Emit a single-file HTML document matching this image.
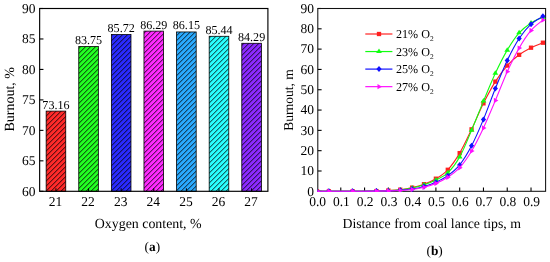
<!DOCTYPE html>
<html><head><meta charset="utf-8"><title>Burnout</title>
<style>
html,body{margin:0;padding:0;background:#fff;}
svg{display:block}
text{font-family:"Liberation Serif", serif;fill:#000;text-rendering:geometricPrecision}
.t{font-size:13.5px}
.v{font-size:12.1px}
.l{font-size:13.9px}
</style></head><body>
<svg width="550" height="262" viewBox="0 0 550 262">
<rect width="550" height="262" fill="#fff"/>
<defs>
<pattern id="h" patternUnits="userSpaceOnUse" width="5" height="5">
<path d="M-1,3.3 L3.3,-1 M1.3,6 L6,1.3" stroke="#000" stroke-width="0.85" fill="none"/>
</pattern>
</defs>
<rect x="46.15" y="111.11" width="19.6" height="80.19" fill="#ff2a2a"/>
<rect x="46.15" y="111.11" width="19.6" height="80.19" fill="url(#h)" stroke="#000" stroke-width="0.8"/>
<text class="v" x="55.95" y="108.51" text-anchor="middle">73.16</text>
<text class="t" x="55.45" y="206.1" text-anchor="middle">21</text>
<path d="M55.95,191.3 v-3" stroke="#000" stroke-width="1"/>
<rect x="78.76" y="46.58" width="19.6" height="144.72" fill="#22ff22"/>
<rect x="78.76" y="46.58" width="19.6" height="144.72" fill="url(#h)" stroke="#000" stroke-width="0.8"/>
<text class="v" x="88.56" y="43.98" text-anchor="middle">83.75</text>
<text class="t" x="88.06" y="206.1" text-anchor="middle">22</text>
<path d="M88.56,191.3 v-3" stroke="#000" stroke-width="1"/>
<rect x="111.37" y="34.58" width="19.6" height="156.72" fill="#2a2aff"/>
<rect x="111.37" y="34.58" width="19.6" height="156.72" fill="url(#h)" stroke="#000" stroke-width="0.8"/>
<text class="v" x="121.17" y="31.98" text-anchor="middle">85.72</text>
<text class="t" x="120.67" y="206.1" text-anchor="middle">23</text>
<path d="M121.17,191.3 v-3" stroke="#000" stroke-width="1"/>
<rect x="143.97" y="31.11" width="19.6" height="160.19" fill="#ff2aff"/>
<rect x="143.97" y="31.11" width="19.6" height="160.19" fill="url(#h)" stroke="#000" stroke-width="0.8"/>
<text class="v" x="153.77" y="28.51" text-anchor="middle">86.29</text>
<text class="t" x="153.27" y="206.1" text-anchor="middle">24</text>
<path d="M153.77,191.3 v-3" stroke="#000" stroke-width="1"/>
<rect x="176.58" y="31.96" width="19.6" height="159.34" fill="#2aaaff"/>
<rect x="176.58" y="31.96" width="19.6" height="159.34" fill="url(#h)" stroke="#000" stroke-width="0.8"/>
<text class="v" x="186.38" y="29.36" text-anchor="middle">86.15</text>
<text class="t" x="185.88" y="206.1" text-anchor="middle">25</text>
<path d="M186.38,191.3 v-3" stroke="#000" stroke-width="1"/>
<rect x="209.19" y="36.29" width="19.6" height="155.01" fill="#2affff"/>
<rect x="209.19" y="36.29" width="19.6" height="155.01" fill="url(#h)" stroke="#000" stroke-width="0.8"/>
<text class="v" x="218.99" y="33.69" text-anchor="middle">85.44</text>
<text class="t" x="218.49" y="206.1" text-anchor="middle">26</text>
<path d="M218.99,191.3 v-3" stroke="#000" stroke-width="1"/>
<rect x="241.80" y="43.29" width="19.6" height="148.01" fill="#8c2aff"/>
<rect x="241.80" y="43.29" width="19.6" height="148.01" fill="url(#h)" stroke="#000" stroke-width="0.8"/>
<text class="v" x="251.60" y="40.69" text-anchor="middle">84.29</text>
<text class="t" x="251.10" y="206.1" text-anchor="middle">27</text>
<path d="M251.60,191.3 v-3" stroke="#000" stroke-width="1"/>
<path d="M39.65,191.30 h3.8" stroke="#000" stroke-width="1.1"/>
<text class="t" x="35.4" y="195.60" text-anchor="end">60</text>
<path d="M39.65,160.83 h3.8" stroke="#000" stroke-width="1.1"/>
<text class="t" x="35.4" y="165.13" text-anchor="end">65</text>
<path d="M39.65,130.37 h3.8" stroke="#000" stroke-width="1.1"/>
<text class="t" x="35.4" y="134.67" text-anchor="end">70</text>
<path d="M39.65,99.90 h3.8" stroke="#000" stroke-width="1.1"/>
<text class="t" x="35.4" y="104.20" text-anchor="end">75</text>
<path d="M39.65,69.43 h3.8" stroke="#000" stroke-width="1.1"/>
<text class="t" x="35.4" y="73.73" text-anchor="end">80</text>
<path d="M39.65,38.97 h3.8" stroke="#000" stroke-width="1.1"/>
<text class="t" x="35.4" y="43.27" text-anchor="end">85</text>
<path d="M39.65,8.50 h3.8" stroke="#000" stroke-width="1.1"/>
<text class="t" x="35.4" y="12.80" text-anchor="end">90</text>
<rect x="39.65" y="8.5" width="228.24999999999997" height="182.8" fill="none" stroke="#000" stroke-width="1.15"/>
<text class="l" transform="translate(14.3,99.25) rotate(-90)" text-anchor="middle" style="font-size:14px">Burnout, %</text>
<text class="l" x="148.2" y="227.7" text-anchor="middle">Oxygen content, %</text>
<text class="l" x="152.3" y="250.7" text-anchor="middle" style="font-size:13.3px">(<tspan font-weight="bold">a</tspan>)</text>
<clipPath id="cp"><rect x="317.5" y="8.5" width="228.4" height="183.4"/></clipPath>
<path d="M317.8,191.30 h3.8" stroke="#000" stroke-width="1.1"/>
<text class="t" x="314.1" y="195.60" text-anchor="end">0</text>
<path d="M317.8,170.99 h3.8" stroke="#000" stroke-width="1.1"/>
<text class="t" x="314.1" y="175.29" text-anchor="end">10</text>
<path d="M317.8,150.68 h3.8" stroke="#000" stroke-width="1.1"/>
<text class="t" x="314.1" y="154.98" text-anchor="end">20</text>
<path d="M317.8,130.37 h3.8" stroke="#000" stroke-width="1.1"/>
<text class="t" x="314.1" y="134.67" text-anchor="end">30</text>
<path d="M317.8,110.06 h3.8" stroke="#000" stroke-width="1.1"/>
<text class="t" x="314.1" y="114.36" text-anchor="end">40</text>
<path d="M317.8,89.74 h3.8" stroke="#000" stroke-width="1.1"/>
<text class="t" x="314.1" y="94.04" text-anchor="end">50</text>
<path d="M317.8,69.43 h3.8" stroke="#000" stroke-width="1.1"/>
<text class="t" x="314.1" y="73.73" text-anchor="end">60</text>
<path d="M317.8,49.12 h3.8" stroke="#000" stroke-width="1.1"/>
<text class="t" x="314.1" y="53.42" text-anchor="end">70</text>
<path d="M317.8,28.81 h3.8" stroke="#000" stroke-width="1.1"/>
<text class="t" x="314.1" y="33.11" text-anchor="end">80</text>
<path d="M317.8,8.50 h3.8" stroke="#000" stroke-width="1.1"/>
<text class="t" x="314.1" y="12.80" text-anchor="end">90</text>
<text class="t" x="317.60" y="206.1" text-anchor="middle">0.0</text>
<path d="M340.78,191.3 v-3.8" stroke="#000" stroke-width="1.1"/>
<text class="t" x="341.38" y="206.1" text-anchor="middle">0.1</text>
<path d="M364.56,191.3 v-3.8" stroke="#000" stroke-width="1.1"/>
<text class="t" x="365.16" y="206.1" text-anchor="middle">0.2</text>
<path d="M388.34,191.3 v-3.8" stroke="#000" stroke-width="1.1"/>
<text class="t" x="388.94" y="206.1" text-anchor="middle">0.3</text>
<path d="M412.12,191.3 v-3.8" stroke="#000" stroke-width="1.1"/>
<text class="t" x="412.72" y="206.1" text-anchor="middle">0.4</text>
<path d="M435.90,191.3 v-3.8" stroke="#000" stroke-width="1.1"/>
<text class="t" x="436.50" y="206.1" text-anchor="middle">0.5</text>
<path d="M459.68,191.3 v-3.8" stroke="#000" stroke-width="1.1"/>
<text class="t" x="460.28" y="206.1" text-anchor="middle">0.6</text>
<path d="M483.46,191.3 v-3.8" stroke="#000" stroke-width="1.1"/>
<text class="t" x="484.06" y="206.1" text-anchor="middle">0.7</text>
<path d="M507.24,191.3 v-3.8" stroke="#000" stroke-width="1.1"/>
<text class="t" x="507.84" y="206.1" text-anchor="middle">0.8</text>
<path d="M531.02,191.3 v-3.8" stroke="#000" stroke-width="1.1"/>
<text class="t" x="531.62" y="206.1" text-anchor="middle">0.9</text>
<rect x="317.8" y="8.5" width="227.8" height="182.8" fill="none" stroke="#111" stroke-width="1.05"/>
<g clip-path="url(#cp)"><path d="M317.00,191.30 C318.98,191.30 322.94,191.30 328.89,191.30 C334.83,191.30 344.74,191.33 352.67,191.30 C360.60,191.27 370.50,191.23 376.45,191.10 C382.39,190.96 384.38,190.72 388.34,190.49 C392.30,190.25 396.27,190.15 400.23,189.68 C404.19,189.20 408.16,188.56 412.12,187.64 C416.08,186.73 420.05,185.68 424.01,184.19 C427.97,182.70 431.94,181.11 435.90,178.71 C439.86,176.30 443.83,174.04 447.79,169.77 C451.75,165.50 455.72,159.85 459.68,153.12 C463.64,146.38 467.61,137.64 471.57,129.35 C475.53,121.06 479.50,111.31 483.46,103.35 C487.42,95.40 491.39,87.92 495.35,81.62 C499.31,75.32 503.28,70.04 507.24,65.57 C511.20,61.11 515.17,57.79 519.13,54.81 C523.09,51.83 527.06,49.72 531.02,47.70 C534.98,45.68 540.93,43.54 542.91,42.70" fill="none" stroke="#ff2020" stroke-width="1.1"/>
<rect x="314.85" y="189.15" width="4.3" height="4.3" fill="#ff2020"/>
<rect x="326.74" y="189.15" width="4.3" height="4.3" fill="#ff2020"/>
<rect x="350.52" y="189.15" width="4.3" height="4.3" fill="#ff2020"/>
<rect x="374.30" y="188.95" width="4.3" height="4.3" fill="#ff2020"/>
<rect x="386.19" y="188.34" width="4.3" height="4.3" fill="#ff2020"/>
<rect x="398.08" y="187.53" width="4.3" height="4.3" fill="#ff2020"/>
<rect x="409.97" y="185.49" width="4.3" height="4.3" fill="#ff2020"/>
<rect x="421.86" y="182.04" width="4.3" height="4.3" fill="#ff2020"/>
<rect x="433.75" y="176.56" width="4.3" height="4.3" fill="#ff2020"/>
<rect x="445.64" y="167.62" width="4.3" height="4.3" fill="#ff2020"/>
<rect x="457.53" y="150.97" width="4.3" height="4.3" fill="#ff2020"/>
<rect x="469.42" y="127.20" width="4.3" height="4.3" fill="#ff2020"/>
<rect x="481.31" y="101.20" width="4.3" height="4.3" fill="#ff2020"/>
<rect x="493.20" y="79.47" width="4.3" height="4.3" fill="#ff2020"/>
<rect x="505.09" y="63.42" width="4.3" height="4.3" fill="#ff2020"/>
<rect x="516.98" y="52.66" width="4.3" height="4.3" fill="#ff2020"/>
<rect x="528.87" y="45.55" width="4.3" height="4.3" fill="#ff2020"/>
<rect x="540.76" y="40.55" width="4.3" height="4.3" fill="#ff2020"/>
</g>
<g clip-path="url(#cp)"><path d="M317.00,191.30 C318.98,191.30 322.94,191.30 328.89,191.30 C334.83,191.30 344.74,191.33 352.67,191.30 C360.60,191.27 370.50,191.20 376.45,191.10 C382.39,191.00 384.38,190.89 388.34,190.69 C392.30,190.49 396.27,190.32 400.23,189.88 C404.19,189.44 408.16,188.90 412.12,188.05 C416.08,187.20 420.05,186.15 424.01,184.80 C427.97,183.45 431.94,181.92 435.90,179.93 C439.86,177.93 443.83,176.64 447.79,172.82 C451.75,168.99 455.72,164.05 459.68,156.97 C463.64,149.90 467.61,139.68 471.57,130.37 C475.53,121.06 479.50,110.63 483.46,101.12 C487.42,91.61 491.39,81.79 495.35,73.29 C499.31,64.80 503.28,56.87 507.24,50.14 C511.20,43.40 515.17,37.41 519.13,32.87 C523.09,28.34 527.06,25.53 531.02,22.92 C534.98,20.31 540.93,18.15 542.91,17.19" fill="none" stroke="#10ff10" stroke-width="1.1"/>
<path d="M317.00,188.30 L319.90,192.80 L314.10,192.80 Z" fill="#10ff10"/>
<path d="M328.89,188.30 L331.79,192.80 L325.99,192.80 Z" fill="#10ff10"/>
<path d="M352.67,188.30 L355.57,192.80 L349.77,192.80 Z" fill="#10ff10"/>
<path d="M376.45,188.10 L379.35,192.60 L373.55,192.60 Z" fill="#10ff10"/>
<path d="M388.34,187.69 L391.24,192.19 L385.44,192.19 Z" fill="#10ff10"/>
<path d="M400.23,186.88 L403.13,191.38 L397.33,191.38 Z" fill="#10ff10"/>
<path d="M412.12,185.05 L415.02,189.55 L409.22,189.55 Z" fill="#10ff10"/>
<path d="M424.01,181.80 L426.91,186.30 L421.11,186.30 Z" fill="#10ff10"/>
<path d="M435.90,176.93 L438.80,181.43 L433.00,181.43 Z" fill="#10ff10"/>
<path d="M447.79,169.82 L450.69,174.32 L444.89,174.32 Z" fill="#10ff10"/>
<path d="M459.68,153.97 L462.58,158.47 L456.78,158.47 Z" fill="#10ff10"/>
<path d="M471.57,127.37 L474.47,131.87 L468.67,131.87 Z" fill="#10ff10"/>
<path d="M483.46,98.12 L486.36,102.62 L480.56,102.62 Z" fill="#10ff10"/>
<path d="M495.35,70.29 L498.25,74.79 L492.45,74.79 Z" fill="#10ff10"/>
<path d="M507.24,47.14 L510.14,51.64 L504.34,51.64 Z" fill="#10ff10"/>
<path d="M519.13,29.87 L522.03,34.37 L516.23,34.37 Z" fill="#10ff10"/>
<path d="M531.02,19.92 L533.92,24.42 L528.12,24.42 Z" fill="#10ff10"/>
<path d="M542.91,14.19 L545.81,18.69 L540.01,18.69 Z" fill="#10ff10"/>
</g>
<g clip-path="url(#cp)"><path d="M317.00,191.30 C318.98,191.30 322.94,191.30 328.89,191.30 C334.83,191.30 344.74,191.33 352.67,191.30 C360.60,191.27 370.50,191.16 376.45,191.10 C382.39,191.03 384.38,191.03 388.34,190.89 C392.30,190.76 396.27,190.59 400.23,190.28 C404.19,189.98 408.16,189.71 412.12,189.07 C416.08,188.42 420.05,187.58 424.01,186.43 C427.97,185.27 431.94,183.95 435.90,182.16 C439.86,180.37 443.83,178.54 447.79,175.66 C451.75,172.78 455.72,169.87 459.68,164.90 C463.64,159.92 467.61,153.39 471.57,145.80 C475.53,138.22 479.50,128.94 483.46,119.40 C487.42,109.85 491.39,98.34 495.35,88.53 C499.31,78.71 503.28,68.82 507.24,60.50 C511.20,52.17 515.17,44.62 519.13,38.56 C523.09,32.50 527.06,27.85 531.02,24.14 C534.98,20.43 540.93,17.62 542.91,16.32" fill="none" stroke="#1010ff" stroke-width="1.1"/>
<path d="M317.00,188.30 L319.60,191.30 L317.00,194.30 L314.40,191.30 Z" fill="#1010ff"/>
<path d="M328.89,188.30 L331.49,191.30 L328.89,194.30 L326.29,191.30 Z" fill="#1010ff"/>
<path d="M352.67,188.30 L355.27,191.30 L352.67,194.30 L350.07,191.30 Z" fill="#1010ff"/>
<path d="M376.45,188.10 L379.05,191.10 L376.45,194.10 L373.85,191.10 Z" fill="#1010ff"/>
<path d="M388.34,187.89 L390.94,190.89 L388.34,193.89 L385.74,190.89 Z" fill="#1010ff"/>
<path d="M400.23,187.28 L402.83,190.28 L400.23,193.28 L397.63,190.28 Z" fill="#1010ff"/>
<path d="M412.12,186.07 L414.72,189.07 L412.12,192.07 L409.52,189.07 Z" fill="#1010ff"/>
<path d="M424.01,183.43 L426.61,186.43 L424.01,189.43 L421.41,186.43 Z" fill="#1010ff"/>
<path d="M435.90,179.16 L438.50,182.16 L435.90,185.16 L433.30,182.16 Z" fill="#1010ff"/>
<path d="M447.79,172.66 L450.39,175.66 L447.79,178.66 L445.19,175.66 Z" fill="#1010ff"/>
<path d="M459.68,161.90 L462.28,164.90 L459.68,167.90 L457.08,164.90 Z" fill="#1010ff"/>
<path d="M471.57,142.80 L474.17,145.80 L471.57,148.80 L468.97,145.80 Z" fill="#1010ff"/>
<path d="M483.46,116.40 L486.06,119.40 L483.46,122.40 L480.86,119.40 Z" fill="#1010ff"/>
<path d="M495.35,85.53 L497.95,88.53 L495.35,91.53 L492.75,88.53 Z" fill="#1010ff"/>
<path d="M507.24,57.50 L509.84,60.50 L507.24,63.50 L504.64,60.50 Z" fill="#1010ff"/>
<path d="M519.13,35.56 L521.73,38.56 L519.13,41.56 L516.53,38.56 Z" fill="#1010ff"/>
<path d="M531.02,21.14 L533.62,24.14 L531.02,27.14 L528.42,24.14 Z" fill="#1010ff"/>
<path d="M542.91,13.32 L545.51,16.32 L542.91,19.32 L540.31,16.32 Z" fill="#1010ff"/>
</g>
<g clip-path="url(#cp)"><path d="M317.00,191.30 C318.98,191.30 322.94,191.30 328.89,191.30 C334.83,191.30 344.74,191.33 352.67,191.30 C360.60,191.27 370.50,191.16 376.45,191.10 C382.39,191.03 384.38,191.00 388.34,190.89 C392.30,190.79 396.27,190.72 400.23,190.49 C404.19,190.25 408.16,190.01 412.12,189.47 C416.08,188.93 420.05,188.25 424.01,187.24 C427.97,186.22 431.94,185.04 435.90,183.38 C439.86,181.72 443.83,179.89 447.79,177.29 C451.75,174.68 455.72,172.11 459.68,167.74 C463.64,163.37 467.61,157.72 471.57,151.08 C475.53,144.45 479.50,136.36 483.46,127.93 C487.42,119.50 491.39,109.89 495.35,100.51 C499.31,91.13 503.28,80.40 507.24,71.67 C511.20,62.93 515.17,54.98 519.13,48.11 C523.09,41.23 527.06,35.10 531.02,30.44 C534.98,25.77 540.93,21.82 542.91,20.10" fill="none" stroke="#ff10ff" stroke-width="1.1"/>
<path d="M320.00,191.30 L315.50,188.60 L315.50,194.00 Z" fill="#ff10ff"/>
<path d="M331.89,191.30 L327.39,188.60 L327.39,194.00 Z" fill="#ff10ff"/>
<path d="M355.67,191.30 L351.17,188.60 L351.17,194.00 Z" fill="#ff10ff"/>
<path d="M379.45,191.10 L374.95,188.40 L374.95,193.80 Z" fill="#ff10ff"/>
<path d="M391.34,190.89 L386.84,188.19 L386.84,193.59 Z" fill="#ff10ff"/>
<path d="M403.23,190.49 L398.73,187.79 L398.73,193.19 Z" fill="#ff10ff"/>
<path d="M415.12,189.47 L410.62,186.77 L410.62,192.17 Z" fill="#ff10ff"/>
<path d="M427.01,187.24 L422.51,184.54 L422.51,189.94 Z" fill="#ff10ff"/>
<path d="M438.90,183.38 L434.40,180.68 L434.40,186.08 Z" fill="#ff10ff"/>
<path d="M450.79,177.29 L446.29,174.59 L446.29,179.99 Z" fill="#ff10ff"/>
<path d="M462.68,167.74 L458.18,165.04 L458.18,170.44 Z" fill="#ff10ff"/>
<path d="M474.57,151.08 L470.07,148.38 L470.07,153.78 Z" fill="#ff10ff"/>
<path d="M486.46,127.93 L481.96,125.23 L481.96,130.63 Z" fill="#ff10ff"/>
<path d="M498.35,100.51 L493.85,97.81 L493.85,103.21 Z" fill="#ff10ff"/>
<path d="M510.24,71.67 L505.74,68.97 L505.74,74.37 Z" fill="#ff10ff"/>
<path d="M522.13,48.11 L517.63,45.41 L517.63,50.81 Z" fill="#ff10ff"/>
<path d="M534.02,30.44 L529.52,27.74 L529.52,33.14 Z" fill="#ff10ff"/>
<path d="M545.91,20.10 L541.41,17.40 L541.41,22.80 Z" fill="#ff10ff"/>
</g>
<path d="M365.3,34.00 H392.4" stroke="#ff2020" stroke-width="1.2"/>
<rect x="376.85" y="31.85" width="4.3" height="4.3" fill="#ff2020"/>
<text class="t" x="396" y="38.20" style="font-size:12.1px">21% O<tspan dy="2.9" font-size="7.4px">2</tspan></text>
<path d="M365.3,51.55 H392.4" stroke="#10ff10" stroke-width="1.2"/>
<path d="M379.00,48.55 L381.90,53.05 L376.10,53.05 Z" fill="#10ff10"/>
<text class="t" x="396" y="55.75" style="font-size:12.1px">23% O<tspan dy="2.9" font-size="7.4px">2</tspan></text>
<path d="M365.3,69.10 H392.4" stroke="#1010ff" stroke-width="1.2"/>
<path d="M379.00,66.10 L381.60,69.10 L379.00,72.10 L376.40,69.10 Z" fill="#1010ff"/>
<text class="t" x="396" y="73.30" style="font-size:12.1px">25% O<tspan dy="2.9" font-size="7.4px">2</tspan></text>
<path d="M365.3,86.65 H392.4" stroke="#ff10ff" stroke-width="1.2"/>
<path d="M382.00,86.65 L377.50,83.95 L377.50,89.35 Z" fill="#ff10ff"/>
<text class="t" x="396" y="90.85" style="font-size:12.1px">27% O<tspan dy="2.9" font-size="7.4px">2</tspan></text>
<text class="l" transform="translate(292.6,99.95) rotate(-90)" text-anchor="middle" style="font-size:13.55px">Burnout, m</text>
<text class="l" x="431.7" y="227.7" text-anchor="middle" style="font-size:13.8px">Distance from coal lance tips, m</text>
<text class="l" x="434.6" y="254.8" text-anchor="middle" style="font-size:13.3px">(<tspan font-weight="bold">b</tspan>)</text>
</svg></body></html>
